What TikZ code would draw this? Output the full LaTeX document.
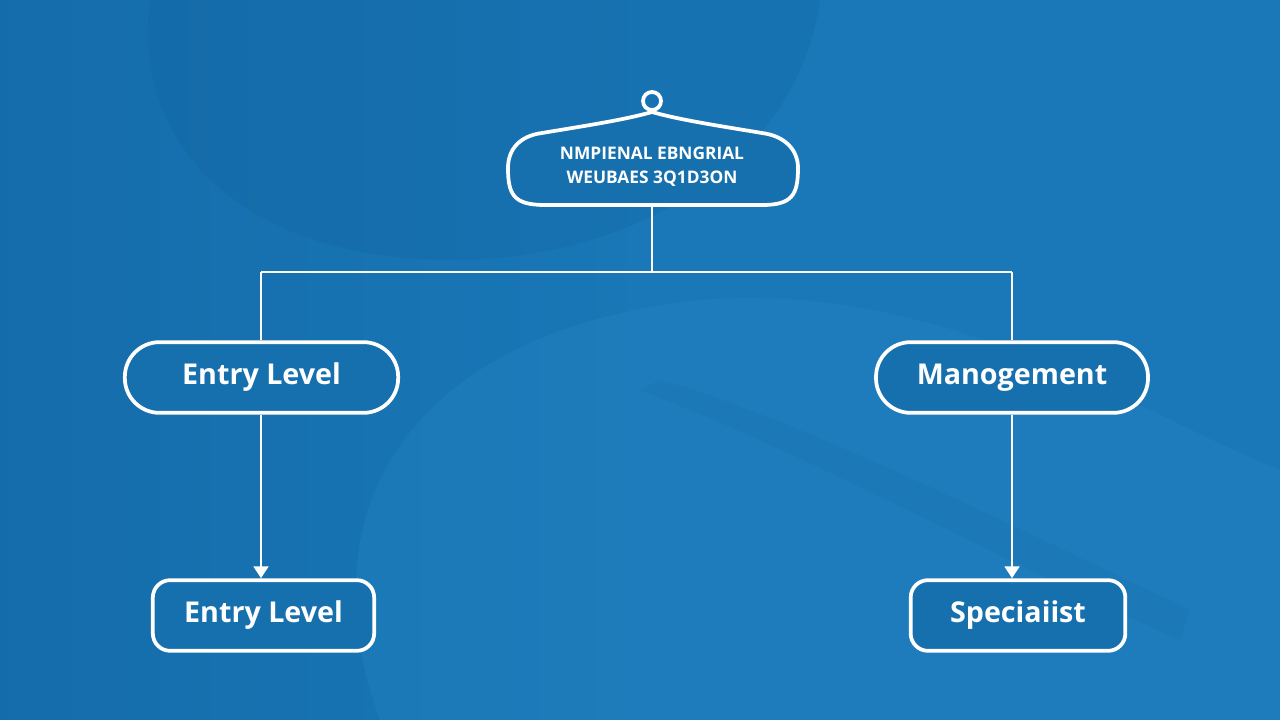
\documentclass[tikz,border=0pt]{standalone}
\usepackage{fontspec}
\setmainfont{Open Sans}
\usetikzlibrary{arrows.meta}
\definecolor{bgblue}{RGB}{26,120,184}
\definecolor{bgdark}{RGB}{18,98,158}
\definecolor{bglight}{RGB}{40,136,198}
\definecolor{boxblue}{RGB}{22,112,174}
\tikzset{
  px/.style={x=0.75pt,y=-0.75pt},
  pill/.style={draw=white,line width=2.8pt,fill=boxblue,rounded corners=26pt,minimum height=53pt,text=white,font=\fontsize{21.5}{24}\selectfont\bfseries},
  card/.style={draw=white,line width=2.8pt,fill=boxblue,rounded corners=13pt,minimum height=53pt,text=white,font=\fontsize{21.5}{24}\selectfont\bfseries},
  toptext/.style={text=white,font=\fontsize{13}{18}\selectfont\bfseries,align=center},
  link/.style={draw=white,line width=2.2pt},
  arrowlink/.style={link,-{Triangle[length=9pt,width=11pt]}},
}
\begin{document}
\begin{tikzpicture}[px]
\useasboundingbox (0,0) rectangle (1280,720);
% background
\fill[bgblue] (0,0) rectangle (1280,720);
\shade[left color=bgdark,right color=bgblue,opacity=0.5] (0,0) rectangle (640,720);
\fill[bglight,opacity=0.3] (380,720) .. controls (300,500) and (420,330) .. (700,300) .. controls (950,280) and (1150,420) .. (1280,470) -- (1280,720) -- cycle;
\fill[bgdark,opacity=0.25] (150,0) .. controls (130,150) and (250,260) .. (450,260) .. controls (650,260) and (800,150) .. (820,0) -- cycle;
\fill[bgdark,opacity=0.15] (640,390) .. controls (800,450) and (1000,560) .. (1180,640) -- (1190,610) .. controls (1000,520) and (800,420) .. (660,380) -- cycle;

% top tag node
\draw[white,line width=2.8pt,fill=boxblue]
  (545,205) -- (762,205)
  .. controls (792,205) and (798,195) .. (798,168)
  .. controls (798,150) and (785,136) .. (762,133)
  .. controls (720,126) and (680,120) .. (652,112)
  .. controls (624,120) and (584,126) .. (542,133)
  .. controls (519,136) and (508,150) .. (508,168)
  .. controls (508,195) and (514,205) .. (545,205) -- cycle;
\node[toptext] (top) at (652,167) {NMPIENAL EBNGRIAL\\WEUBAES 3Q1D3ON};
\draw[white,line width=2.8pt] (652,101) circle (9);
\coordinate (topb) at (652,205);

% nodes
\node[pill,minimum width=205pt] (m1) at (261.5,377.5) {Entry Level};
\node[pill,minimum width=204pt] (m2) at (1012,377.5) {Manogement};
\node[card,minimum width=166pt] (b1) at (263.5,615.5) {Entry Level};
\node[card,minimum width=161pt] (b2) at (1018,615.5) {Speciaiist};

% connectors
\coordinate (j) at (652,272);
\coordinate (jl) at (261,272);
\coordinate (jr) at (1012,272);
\draw[link] (topb) -- (j);
\draw[link] (jl) -- (jr);
\draw[link] (jl) -- (m1.north -| jl);
\draw[link] (jr) -- (m2.north -| jr);
\draw[arrowlink] (m1.south -| jl) -- (b1.north -| jl);
\draw[arrowlink] (m2.south -| jr) -- (b2.north -| jr);
\end{tikzpicture}
\end{document}
